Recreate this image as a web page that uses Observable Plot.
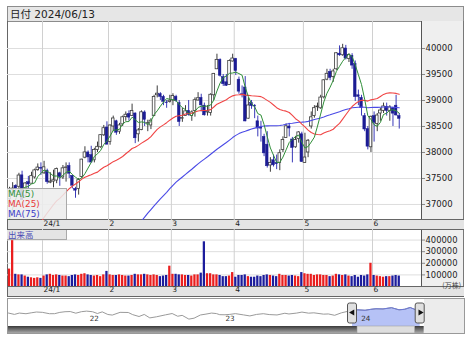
<!DOCTYPE html>
<html lang="ja">
<head>
<meta charset="utf-8">
<script src="https://cdn.jsdelivr.net/npm/d3@7"></script>
<script src="https://cdn.jsdelivr.net/npm/@observablehq/plot@0.6"></script>
<style>
html,body{margin:0;padding:0;background:#fff;}
#root{position:relative;width:474px;height:341px;overflow:hidden;font-family:"DejaVu Sans","Noto Sans CJK JP",sans-serif;color:#222;}
.b{position:absolute;box-sizing:border-box;white-space:nowrap;}
.p{position:absolute;}
.p svg{display:block;max-width:none;}
</style>
</head>
<body>
<div id="root"></div>
<script>
// ---------- data ----------
const dates = [
"2023-12-14","2023-12-15","2023-12-18","2023-12-19","2023-12-20","2023-12-21","2023-12-22","2023-12-26","2023-12-27","2023-12-28","2023-12-29",
"2024-01-02","2024-01-03","2024-01-04","2024-01-05","2024-01-08","2024-01-09","2024-01-10","2024-01-11","2024-01-12","2024-01-16","2024-01-17","2024-01-18","2024-01-19","2024-01-22","2024-01-23","2024-01-24","2024-01-25","2024-01-26","2024-01-29","2024-01-30","2024-01-31",
"2024-02-01","2024-02-02","2024-02-05","2024-02-06","2024-02-07","2024-02-08","2024-02-09","2024-02-12","2024-02-13","2024-02-14","2024-02-15","2024-02-16","2024-02-20","2024-02-21","2024-02-22","2024-02-23","2024-02-26","2024-02-27","2024-02-28","2024-02-29",
"2024-03-01","2024-03-04","2024-03-05","2024-03-06","2024-03-07","2024-03-08","2024-03-11","2024-03-12","2024-03-13","2024-03-14","2024-03-15","2024-03-18","2024-03-19","2024-03-20","2024-03-21","2024-03-22","2024-03-25","2024-03-26","2024-03-27","2024-03-28",
"2024-04-01","2024-04-02","2024-04-03","2024-04-04","2024-04-05","2024-04-08","2024-04-09","2024-04-10","2024-04-11","2024-04-12","2024-04-15","2024-04-16","2024-04-17","2024-04-18","2024-04-19","2024-04-22","2024-04-23","2024-04-24","2024-04-25","2024-04-26","2024-04-29","2024-04-30",
"2024-05-01","2024-05-02","2024-05-03","2024-05-06","2024-05-07","2024-05-08","2024-05-09","2024-05-10","2024-05-13","2024-05-14","2024-05-15","2024-05-16","2024-05-17","2024-05-20","2024-05-21","2024-05-22","2024-05-23","2024-05-24","2024-05-28","2024-05-29","2024-05-30","2024-05-31",
"2024-06-03","2024-06-04","2024-06-05","2024-06-06","2024-06-07","2024-06-10","2024-06-11","2024-06-12","2024-06-13"];

const open = [37100,37280,37360,37340,37560,37170,37430,37400,37520,37660,37700,
37600,37650,37420,37440,37460,37600,37520,37700,37740,37550,37300,37300,37530,37900,38000,37950,37850,38050,38100,38330,38480,
38200,38500,38600,38400,38540,38680,38740,38700,38750,38350,38430,38770,38560,38520,38700,39100,39120,39070,38960,38970,
39000,39070,38950,38650,38700,38800,38700,38800,39000,39050,38900,38770,38760,39100,39600,39780,39450,39350,39300,39750,
39800,39400,39130,39250,38650,38950,38900,38600,38480,38300,38150,37750,37850,37800,37800,38050,38280,38500,38250,38100,38260,38350,
37800,38000,38500,38700,38870,38850,39060,39400,39550,39450,39600,39900,39870,40000,39800,39860,39700,39100,39050,38700,38450,38100,
38700,38550,38750,38800,38880,38800,38850,38900,38700];

const high = [37330,37420,37380,37600,37640,37420,37540,37620,37680,37780,37800,
37830,37680,37610,37660,37700,37620,37750,37800,37800,37560,37330,37500,37870,38110,38030,38120,38080,38200,38340,38520,38590,
38530,38700,38620,38560,38700,38780,38800,38930,38760,38460,38800,38800,38620,38650,39100,39280,39150,39100,39000,39100,
39130,39100,39000,38850,38900,39000,38800,39050,39150,39120,38950,38900,39130,39520,39890,39800,39500,39500,39780,39890,
39810,39450,39280,39460,39050,39000,38920,38700,38600,38350,38400,37900,37950,37950,38050,38300,38550,38560,38290,38310,38400,38390,
38370,38250,38780,38900,38950,39100,39400,39600,39600,39600,39920,40050,40080,40060,39900,39900,39760,39200,39100,38750,38500,38700,
38780,38750,38850,38950,38950,38900,38870,39100,38750];

const low = [37020,37200,37230,37300,37080,37120,37300,37400,37490,37640,37560,
37580,37390,37400,37320,37400,37350,37480,37430,37500,37300,37120,37180,37500,37880,37800,37800,37800,38000,38080,38310,38150,
38140,38400,38330,38350,38500,38600,38600,38690,38170,38200,38420,38500,38400,38440,38690,39050,39000,38900,38850,38950,
38900,38960,38500,38580,38700,38700,38600,38680,38990,38780,38700,38700,38700,39000,39600,39450,39270,39270,39300,39740,
39480,39120,39050,38590,38640,38830,38650,38300,38200,37920,37700,37620,37720,37670,37650,38000,38270,38300,37800,38080,38180,37810,
37790,37900,38450,38660,38790,38830,39030,39380,39380,39350,39580,39850,39850,39780,39730,39600,38980,38900,38700,38400,38050,38000,
38200,38400,38600,38750,38700,38600,38500,38700,38450];

const close = [37248,37305,37306,37557,37082,37404,37385,37545,37656,37710,37689,
37715,37430,37440,37466,37683,37525,37695,37711,37592,37361,37266,37468,37863,38001,37905,37806,38049,38109,38333,38467,38150,
38519,38654,38380,38521,38677,38726,38671,38797,38273,38424,38773,38628,38564,38612,39069,39131,39069,38972,38949,38996,
39087,38990,38585,38661,38791,38723,38770,39005,39043,38906,38715,38790,39110,39512,39781,39476,39313,39282,39760,39807,
39567,39170,39127,38597,38904,38892,38883,38461,38459,37983,37735,37799,37753,37775,37986,38240,38503,38461,38086,38240,38386,37816,
37903,38226,38676,38852,38884,39056,39388,39513,39432,39558,39908,39869,40004,39807,39873,39671,39065,39070,38853,38442,38112,38686,
38571,38711,38807,38886,38799,38868,38747,38712,38647];

const volume = [150000,395000,105000,100000,100000,90000,80000,75000,70000,75000,70000,
90000,100000,105000,95000,100000,95000,90000,90000,85000,95000,100000,95000,105000,110000,100000,95000,90000,95000,85000,100000,130000,
100000,95000,95000,100000,95000,90000,90000,95000,105000,100000,100000,105000,100000,95000,100000,95000,85000,90000,95000,175000,
105000,105000,100000,100000,95000,95000,90000,100000,100000,115000,385000,110000,110000,100000,100000,95000,85000,85000,90000,120000,
80000,95000,95000,100000,85000,80000,80000,90000,85000,95000,100000,95000,90000,85000,105000,95000,95000,90000,95000,90000,85000,120000,
110000,105000,105000,95000,100000,100000,95000,95000,85000,90000,105000,100000,95000,100000,90000,85000,95000,80000,95000,90000,100000,200000,
95000,90000,85000,80000,85000,85000,90000,95000,90000];

const ma5 = [36714,36925,37105,37301,37300,37331,37347,37395,37414,37540,37597,
37663,37640,37597,37548,37547,37509,37562,37616,37641,37577,37525,37480,37510,37592,37701,37809,37925,37974,38040,38153,38222,
38316,38425,38434,38445,38550,38592,38595,38678,38629,38578,38588,38579,38532,38600,38729,38801,38889,38971,39038,39023,
39015,38999,38921,38864,38823,38750,38706,38790,38866,38889,38888,38892,38913,39007,39182,39334,39438,39473,39522,39528,
39546,39517,39486,39254,39073,38938,38881,38747,38720,38536,38304,38087,37946,37809,37810,37911,38051,38193,38255,38306,38335,38198,
38086,38114,38201,38295,38508,38739,38971,39139,39255,39389,39560,39656,39754,39829,39892,39845,39684,39497,39306,39020,38708,38633,
38533,38504,38577,38732,38755,38814,38821,38802,38755];

const ma25 = [null,null,null,null,null,null,null,null,36458,36562,36659,
36752,36836,36917,36998,37068,37119,37178,37242,37303,37353,37394,37436,37488,37524,37550,37570,37600,37622,37672,37715,37745,
37784,37824,37851,37884,37923,37975,38024,38077,38101,38137,38180,38217,38255,38305,38378,38444,38492,38531,38573,38621,
38662,38697,38707,38715,38741,38749,38754,38779,38799,38809,38808,38813,38825,38875,38929,38957,38985,39014,39059,39089,
39106,39110,39117,39103,39099,39091,39087,39082,39074,39041,39002,38963,38913,38862,38825,38806,38795,38769,38712,38650,38607,38547,
38492,38430,38385,38357,38345,38342,38374,38398,38420,38447,38505,38561,38642,38725,38808,38885,38936,38979,39004,39002,38988,39012,
39025,39038,39077,39117,39140,39147,39143,39136,39120];

const ma75 = [null,null,null,null,null,null,null,null,null,null,null,
null,null,null,null,null,null,null,null,null,null,null,null,null,null,null,null,null,null,null,null,null,
null,null,null,null,null,null,null,null,36522,36598,36682,36758,36832,36903,36973,37040,37107,37171,37235,37303,
37368,37430,37480,37529,37580,37630,37678,37731,37781,37828,37873,37918,37967,38014,38062,38105,38148,38191,38239,38287,
38329,38363,38391,38409,38430,38451,38469,38487,38501,38509,38512,38514,38514,38515,38519,38530,38544,38557,38563,38572,38581,38583,
38587,38598,38617,38636,38649,38663,38683,38706,38724,38744,38765,38783,38808,38825,38841,38859,38866,38871,38873,38870,38861,38866,
38868,38867,38870,38874,38876,38874,38869,38864,38860];

const priceTicks = [37000,37500,38000,38500,39000,39500,40000];
const volumeTicks = [100000,200000,300000,400000];
const monthStarts = ["2024-01-02","2024-02-01","2024-03-01","2024-04-01","2024-05-01","2024-06-03"];
const monthLabels = ["24/1","2","3","4","5","6"];

const navDates = ["2021-06-02","2021-06-18","2021-07-01","2021-07-19","2021-08-02","2021-08-16","2021-09-01","2021-09-20","2021-10-04","2021-10-18","2021-11-01","2021-11-15","2021-11-30","2021-12-15","2021-12-29",
"2022-01-14","2022-01-27","2022-02-09","2022-02-24","2022-03-08","2022-03-29","2022-04-20","2022-05-02","2022-05-19","2022-06-02","2022-06-17","2022-07-05","2022-07-29","2022-08-16","2022-08-31","2022-09-12","2022-09-30","2022-10-14","2022-10-31","2022-11-15","2022-11-30","2022-12-13","2022-12-22",
"2023-01-05","2023-01-18","2023-02-02","2023-02-24","2023-03-13","2023-03-31","2023-04-18","2023-05-04","2023-05-25","2023-06-15","2023-06-26","2023-07-17","2023-07-31","2023-08-18","2023-09-01","2023-09-27","2023-10-10","2023-10-27","2023-11-14","2023-12-01","2023-12-14","2023-12-28",
"2024-01-17","2024-01-31","2024-02-15","2024-03-05","2024-03-28","2024-04-17","2024-05-02","2024-05-17","2024-05-30","2024-06-13"];
const navValues = [34600,33300,34600,33960,34840,35620,35310,33970,34000,35260,35910,36090,34480,35930,36490,
35910,34160,35770,33220,32630,35290,35160,33060,31250,33250,29890,30970,32850,34150,31510,32380,28730,29630,32730,33590,34590,34110,33030,
32930,33300,34050,32820,31820,33270,33980,33130,32760,34410,33710,34590,35560,34500,34840,33550,33740,32420,34830,36250,37250,37710,
37270,38150,38770,38590,39810,37750,38230,40000,38110,38650];
const navYearStarts = ["2022-01-01","2023-01-01","2024-01-01"];
const navYearLabels = ["22","23","24"];

const titleLabel = "日付";
const titleDate = "2024/06/13";
const legendLabels = ["MA(5)","MA(25)","MA(75)"];
const volumeTitle = "出来高";
const volumeUnit = "(万株)";

// ---------- derived tables ----------
const rows = dates.map((d,i)=>({i, o:open[i], h:high[i], l:low[i], c:close[i], v:volume[i]}));
const upRows = rows.filter(r=>r.c>=r.o);
const dnRows = rows.filter(r=>r.c<r.o);
const series = arr => arr.map((v,i)=>({i,v})).filter(d=>d.v!=null);
const months = monthStarts.map((d,k)=>({i: dates.indexOf(d) - 0.5, label: monthLabels[k]}));
const navRows = navDates.map((d,k)=>({d:new Date(d), v:navValues[k]}));
const selStart = new Date(dates[0]), selEnd = new Date(dates[dates.length-1]);
const selRows = navRows.filter(r=>r.d>=selStart);
const navYears = navYearStarts.map((d,k)=>({d:new Date(d), label:navYearLabels[k]}));

// ---------- layout helpers ----------
const root = document.getElementById("root");
const FONT = '"DejaVu Sans","Noto Sans CJK JP",sans-serif';
const CJK = '"Noto Sans CJK JP","Noto Sans",sans-serif';
function box(x,y,w,h,style,text){const d=document.createElement("div");d.className="b";Object.assign(d.style,{left:x+"px",top:y+"px",width:w+"px",height:h+"px"},style||{});if(text!=null)d.innerHTML=text;root.appendChild(d);return d;}
function place(svg,x,y,w,h){const d=document.createElement("div");d.className="p";Object.assign(d.style,{left:x+"px",top:y+"px",width:w+"px",height:h+"px"});d.appendChild(svg);root.appendChild(d);return d;}
const baseStyle = {background:"transparent", fontFamily:FONT, color:"#222", overflow:"visible", maxWidth:"none"};

// backgrounds / chrome
box(7,6,457,16,{background:"#e6e6e6",border:"1px solid #8c8c8c",fontSize:"10.5px",lineHeight:"14px",paddingLeft:"2px",color:"#222",fontFamily:FONT}, titleLabel+" "+titleDate);
box(421,21,43,199,{background:"#efefef",borderLeft:"1px solid #555",borderRight:"1px solid #777"});
box(7,219,457,11,{background:"#e4e4e4",borderTop:"1px solid #666",borderBottom:"1px solid #666"});
box(421,230,43,56,{background:"#efefef",borderLeft:"1px solid #555",borderRight:"1px solid #777"});
box(7,286,457,11,{background:"#e4e4e4",borderTop:"1px solid #666",borderBottom:"1px solid #666"});
box(7,21,1,276,{background:"#666"});
box(7,298,458,36,{border:"1px solid #999",background:"#fff"});
box(424,299,40,34,{background:"#ececec"});

const xDom = [-0.636, 131.08];

// ---------- main price panel ----------
const main = Plot.plot({
  width:457, height:208, marginLeft:0, marginRight:43, marginTop:0, marginBottom:9,
  style: baseStyle,
  x:{type:"linear", domain:xDom, axis:null},
  y:{domain:[36692,40519]},
  marks:[
    Plot.ruleY(priceTicks,{stroke:"#dedede"}),
    Plot.ruleX(months,{x:"i", stroke:"#d0d0d0"}),
    Plot.ruleX(upRows,{x:"i", y1:"l", y2:"h", stroke:"#3c3c3c", strokeWidth:1, clip:true}),
    Plot.ruleX(dnRows,{x:"i", y1:"l", y2:"h", stroke:"#3a3ab8", strokeWidth:1, clip:true}),
    Plot.rect(upRows,{x1:d=>d.i-0.42, x2:d=>d.i+0.42, y1:"o", y2:"c", fill:"white", stroke:"#3c3c3c", strokeWidth:0.8, clip:true}),
    Plot.rect(dnRows,{x1:d=>d.i-0.42, x2:d=>d.i+0.42, y1:"o", y2:"c", fill:"#1c1c94", stroke:"#1c1c94", strokeWidth:0.5, clip:true}),
    Plot.line(series(ma75),{x:"i", y:"v", stroke:"#4a4ae6", strokeWidth:1.1, clip:true}),
    Plot.line(series(ma25),{x:"i", y:"v", stroke:"#f04444", strokeWidth:1.1, clip:true}),
    Plot.line(series(ma5),{x:"i", y:"v", stroke:"#2f8f38", strokeWidth:1, clip:true}),
    Plot.axisY(priceTicks,{anchor:"right", tickFormat:d=>String(d), tickSize:3, tickPadding:1, stroke:"#888", fontSize:8.5, fontFamily:"DejaVu Sans", label:null}),
    Plot.text(months,{x:"i", text:"label", frameAnchor:"bottom", dy:5, dx:1, textAnchor:"start", fontSize:7.5, fontFamily:"DejaVu Sans", fill:"#222"})
  ]
});
place(main,7,21,457,208);

// ---------- volume panel ----------
const vol = Plot.plot({
  width:457, height:68, marginLeft:0, marginRight:43, marginTop:0, marginBottom:11,
  style: baseStyle,
  x:{type:"linear", domain:xDom, axis:null},
  y:{domain:[0,491000]},
  marks:[
    Plot.ruleY(volumeTicks,{stroke:"#dedede"}),
    Plot.ruleX(months,{x:"i", stroke:"#d0d0d0"}),
    Plot.rect(upRows,{x1:d=>d.i-0.36, x2:d=>d.i+0.36, y1:0, y2:"v", fill:"#ea1e1e"}),
    Plot.rect(dnRows,{x1:d=>d.i-0.36, x2:d=>d.i+0.36, y1:0, y2:"v", fill:"#1c1c9c"}),
    Plot.axisY(volumeTicks,{anchor:"right", tickFormat:d=>String(d), tickSize:3, tickPadding:1, stroke:"#888", fontSize:8.4, fontFamily:"DejaVu Sans", label:null}),
    Plot.text(months,{x:"i", text:"label", frameAnchor:"bottom", dy:5.5, dx:1, textAnchor:"start", fontSize:7.5, fontFamily:"DejaVu Sans", fill:"#222"})
  ]
});
place(vol,7,229,457,68);

// ---------- navigator ----------
const navX = {type:"utc", domain:[new Date(navDates[0]), selEnd], range:[1,412.7], axis:null};
const nav = Plot.plot({
  width:458, height:28, marginLeft:0, marginRight:0, marginTop:0, marginBottom:0,
  style: baseStyle,
  x: navX,
  y:{domain:[22500,47800], range:[27,1], axis:null},
  marks:[
    Plot.areaY(selRows,{x:"d", y:"v", fill:"#b6c2f6", clip:true}),
    Plot.lineY(navRows,{x:"d", y:"v", stroke:"#9a9a9a", strokeWidth:1}),
    Plot.lineY(selRows,{x:"d", y:"v", stroke:"#6b78d8", strokeWidth:1}),
    Plot.text(navYears,{x:"d", text:"label", frameAnchor:"bottom", dy:-6, dx:2, textAnchor:"start", fontSize:7.2, fontFamily:"DejaVu Sans", fill:"#333"}),
    Plot.rect([selStart, selEnd],{x1:d=>d, x2:d=>d, insetLeft:-4.5, insetRight:-4.5, insetTop:5, insetBottom:3, fill:"#e0e0e0", stroke:"#555", rx:2}),
    Plot.dot([selStart],{x:d=>d, symbol:"triangle", r:2.2, fill:"#111", stroke:"none", rotate:-90}),
    Plot.dot([selEnd],{x:d=>d, symbol:"triangle", r:2.2, fill:"#111", stroke:"none", rotate:90})
  ]
});
place(nav,7,298,458,28);

const sb = Plot.plot({
  width:458, height:7, marginLeft:0, marginRight:0, marginTop:0, marginBottom:0,
  style: baseStyle,
  x: navX,
  marks:[
    Plot.rect([{a:new Date(navDates[0]), b:selEnd}],{x1:"a", x2:"b", insetRight:-4, fill:"url(#sbg)"}),
    Plot.rect([{a:selStart, b:selEnd}],{x1:"a", x2:"b", insetLeft:5, insetRight:5, fill:"#dedede", stroke:"#999", strokeWidth:0.5})
  ]
});
const ns = "http://www.w3.org/2000/svg";
const defs = document.createElementNS(ns,"defs");
defs.innerHTML = '<linearGradient id="sbg" x1="0" y1="0" x2="0" y2="1"><stop offset="0" stop-color="#3a3a3a"/><stop offset="1" stop-color="#a8a8a8"/></linearGradient>';
sb.insertBefore(defs, sb.firstChild);
place(sb,7,326,458,7);

// ---------- overlays ----------
const legendColors = ["#2f8f38","#e83a3a","#3c3cc8"];
box(7,188,60,31,{background:"rgba(236,236,236,0.86)",borderTop:"1px solid #aaa",borderRight:"1px solid #aaa",fontSize:"8.8px",lineHeight:"10px",paddingLeft:"1px",fontFamily:"DejaVu Sans"},
  legendLabels.map((t,k)=>'<div style="color:'+legendColors[k]+';height:10px">'+t+'</div>').join(""));
box(7,230,60,10,{background:"#e4e4e4",borderRight:"1px solid #aaa",borderBottom:"1px solid #aaa",fontSize:"8.5px",lineHeight:"9px",color:"#4a4ab4",paddingLeft:"1px",fontFamily:CJK}, volumeTitle);
box(424,280,37,10,{fontSize:"7px",lineHeight:"10px",textAlign:"right",color:"#444",fontFamily:CJK,zIndex:5}, volumeUnit);
</script>
</body>
</html>
